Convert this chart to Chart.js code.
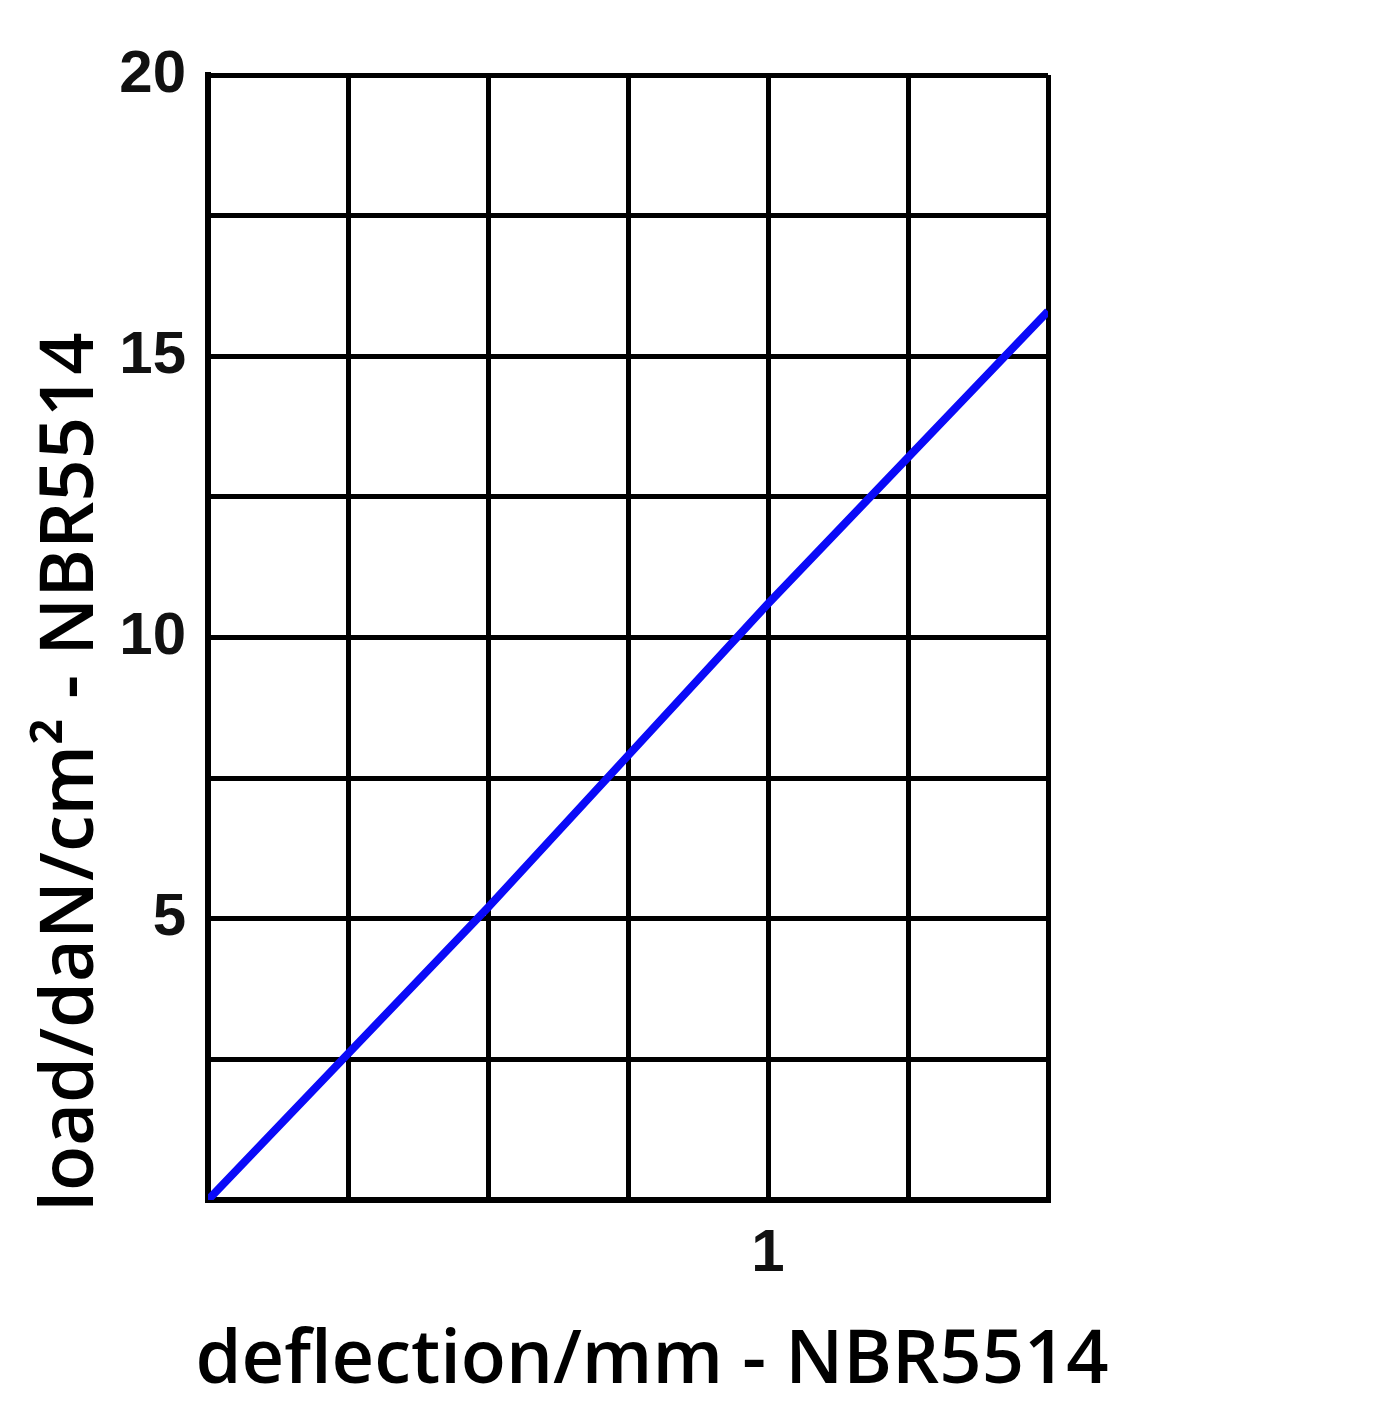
<!DOCTYPE html>
<html>
<head>
<meta charset="utf-8">
<script src="https://cdn.jsdelivr.net/npm/chart.js@4.4.0/dist/chart.umd.min.js"></script>
<style>
  html, body { margin: 0; padding: 0; background: #ffffff; }
  #wrap { width: 1400px; height: 1418px; position: relative; }
</style>
</head>
<body>
<div id="wrap"><canvas id="c" width="1400" height="1418"></canvas></div>
<script>
// ---- data ----
const deflection = [0, 0.25, 0.5, 0.75, 1.0, 1.25, 1.5];   // mm
const load = [0, 2.6, 5.2, 7.9, 10.6, 13.2, 15.8];          // daN/cm²
const yTickLabels = [5, 10, 15, 20];
const xTickLabels = [1];
const xTitle = 'deflection/mm - NBR5514';
const yTitle = 'load/daN/cm\u00B2 - NBR5514';

const points = deflection.map((x, i) => ({ x: x, y: load[i] }));

const titlePlugin = {
  id: 'titles',
  beforeDraw(chart) {
    const ctx = chart.ctx;
    ctx.save();
    ctx.fillStyle = '#ffffff';
    ctx.fillRect(0, 0, chart.width, chart.height);
    ctx.restore();
  },
  afterDraw(chart) {
    const ctx = chart.ctx;
    ctx.save();
    ctx.fillStyle = '#000000';
    ctx.font = '600 74px "Open Sans", "Noto Sans", sans-serif';
    ctx.textAlign = 'center';
    ctx.textBaseline = 'alphabetic';
    ctx.fillText(xTitle, 652, 1383);
    ctx.translate(93, 772);
    ctx.rotate(-Math.PI / 2);
    ctx.fillText(yTitle, 0, 0);
    ctx.restore();
  }
};

new Chart(document.getElementById('c'), {
  type: 'scatter',
  data: {
    datasets: [{
      data: points,
      showLine: true,
      borderColor: '#0a0af8',
      borderWidth: 8,
      pointRadius: 0,
      tension: 0,
      fill: false
    }]
  },
  options: {
    responsive: false,
    animation: false,
    events: [],
    layout: { padding: { left: 0, top: 75, right: 352, bottom: 0 } },
    plugins: { legend: { display: false }, tooltip: { enabled: false } },
    scales: {
      x: {
        type: 'linear',
        min: 0, max: 1.5,
        afterFit(scale) { scale.height = 218; },
        grid: { color: '#000000', lineWidth: 5, drawTicks: false },
        border: { color: '#000000', width: 6 },
        ticks: {
          stepSize: 0.25,
          padding: 18,
          color: '#111111',
          font: { family: '"Liberation Sans", Arial, sans-serif', size: 60, weight: 'bold' },
          callback: (v) => xTickLabels.includes(v) ? String(v) : ''
        }
      },
      y: {
        type: 'linear',
        min: 0, max: 20,
        afterFit(scale) { scale.width = 208; },
        grid: { color: '#000000', lineWidth: 5, drawTicks: false },
        border: { color: '#000000', width: 6 },
        ticks: {
          stepSize: 2.5,
          padding: 22,
          color: '#111111',
          font: { family: '"Liberation Sans", Arial, sans-serif', size: 60, weight: 'bold' },
          callback: (v) => yTickLabels.includes(v) ? String(v) : ''
        }
      }
    }
  },
  plugins: [titlePlugin]
});
</script>
</body>
</html>
